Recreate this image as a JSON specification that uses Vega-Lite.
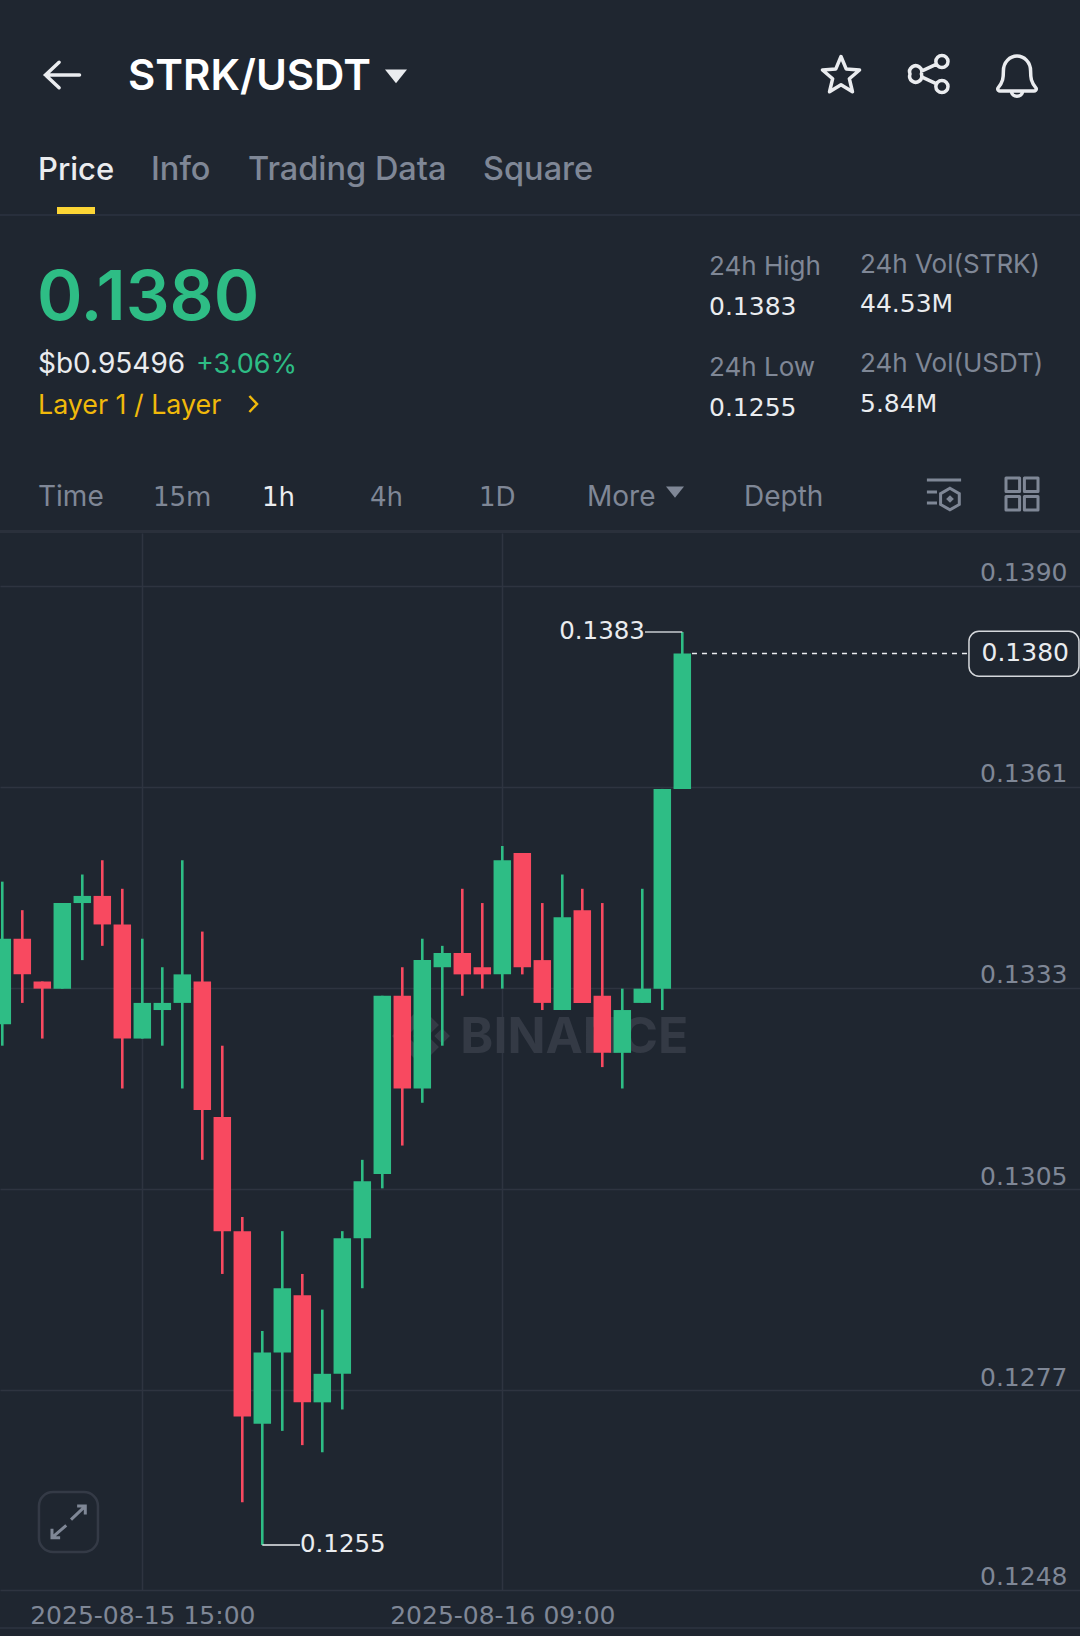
{
"$schema":"https://vega.github.io/schema/vega-lite/v6.json",
"background":"#1F2630","padding":{"left":-2,"top":0,"right":0,"bottom":0},"spacing":0,"autosize":{"type":"pad"},
"config":{"view":{"stroke":null},"concat":{"spacing":0},"font":"Inter","text":{"font":"Inter","baseline":"alphabetic"}},
"datasets":{
"header":[
{"role":"title","col":128,"line":90,"text":"STRK/USDT"},
{"role":"tabOn","col":38,"line":180,"text":"Price"},
{"role":"tabOff","col":151,"line":180,"text":"Info"},
{"role":"tabOff","col":248,"line":180,"text":"Trading Data"},
{"role":"tabOff","col":483,"line":180,"text":"Square"},
{"role":"last","col":37,"line":320,"text":"0.1380"},
{"role":"sub","col":38,"line":373,"text":"$b0.95496"},
{"role":"chg","col":196,"line":373,"text":"+3.06%"},
{"role":"cat","col":38,"line":413.5,"text":"Layer 1 / Layer"},
{"role":"statL","col":709,"line":275,"text":"24h High"},
{"role":"statV","col":709,"line":315,"text":"0.1383"},
{"role":"statL","col":709,"line":376,"text":"24h Low"},
{"role":"statV","col":709,"line":416,"text":"0.1255"},
{"role":"statL","col":860,"line":273,"text":"24h Vol(STRK)"},
{"role":"statV","col":860,"line":312,"text":"44.53M"},
{"role":"statL","col":860,"line":372,"text":"24h Vol(USDT)"},
{"role":"statV","col":860,"line":412,"text":"5.84M"},
{"role":"intOff","col":38,"line":505.5,"text":"Time"},
{"role":"intNum","col":153,"line":505.5,"text":"15m"},
{"role":"intOn","col":262,"line":505.5,"text":"1h"},
{"role":"intNum","col":370,"line":505.5,"text":"4h"},
{"role":"intNum","col":479,"line":505.5,"text":"1D"},
{"role":"intOff","col":587,"line":505.5,"text":"More"},
{"role":"intOff","col":744,"line":505.5,"text":"Depth"}
],
"icons":[
{"icon":"back","col":62.5,"line":75},
{"icon":"star","col":841,"line":76},
{"icon":"share","col":929,"line":74},
{"icon":"bell","col":1017,"line":76},
{"icon":"caret","col":396,"line":76},
{"icon":"chev","col":253,"line":404},
{"icon":"caretGrey","col":675,"line":492},
{"icon":"indicator","col":944,"line":494},
{"icon":"hexdot","col":950,"line":499},
{"icon":"grid","col":1022,"line":494}
],
"candles":[
{"t":"2025-08-15T08:00:00Z","open":0.1328,"close":0.1340,"high":0.1348,"low":0.1325,"side":"up"},
{"t":"2025-08-15T09:00:00Z","open":0.1340,"close":0.1335,"high":0.1344,"low":0.1331,"side":"down"},
{"t":"2025-08-15T10:00:00Z","open":0.1334,"close":0.1333,"high":0.1334,"low":0.1326,"side":"down"},
{"t":"2025-08-15T11:00:00Z","open":0.1333,"close":0.1345,"high":0.1345,"low":0.1333,"side":"up"},
{"t":"2025-08-15T12:00:00Z","open":0.1345,"close":0.1346,"high":0.1349,"low":0.1337,"side":"up"},
{"t":"2025-08-15T13:00:00Z","open":0.1346,"close":0.1342,"high":0.1351,"low":0.1339,"side":"down"},
{"t":"2025-08-15T14:00:00Z","open":0.1342,"close":0.1326,"high":0.1347,"low":0.1319,"side":"down"},
{"t":"2025-08-15T15:00:00Z","open":0.1326,"close":0.1331,"high":0.1340,"low":0.1326,"side":"up"},
{"t":"2025-08-15T16:00:00Z","open":0.1330,"close":0.1331,"high":0.1336,"low":0.1325,"side":"up"},
{"t":"2025-08-15T17:00:00Z","open":0.1331,"close":0.1335,"high":0.1351,"low":0.1319,"side":"up"},
{"t":"2025-08-15T18:00:00Z","open":0.1334,"close":0.1316,"high":0.1341,"low":0.1309,"side":"down"},
{"t":"2025-08-15T19:00:00Z","open":0.1315,"close":0.1299,"high":0.1325,"low":0.1293,"side":"down"},
{"t":"2025-08-15T20:00:00Z","open":0.1299,"close":0.1273,"high":0.1301,"low":0.1261,"side":"down"},
{"t":"2025-08-15T21:00:00Z","open":0.1272,"close":0.1282,"high":0.1285,"low":0.1255,"side":"up"},
{"t":"2025-08-15T22:00:00Z","open":0.1282,"close":0.1291,"high":0.1299,"low":0.1271,"side":"up"},
{"t":"2025-08-15T23:00:00Z","open":0.1290,"close":0.1275,"high":0.1293,"low":0.1269,"side":"down"},
{"t":"2025-08-16T00:00:00Z","open":0.1275,"close":0.1279,"high":0.1288,"low":0.1268,"side":"up"},
{"t":"2025-08-16T01:00:00Z","open":0.1279,"close":0.1298,"high":0.1299,"low":0.1274,"side":"up"},
{"t":"2025-08-16T02:00:00Z","open":0.1298,"close":0.1306,"high":0.1309,"low":0.1291,"side":"up"},
{"t":"2025-08-16T03:00:00Z","open":0.1307,"close":0.1332,"high":0.1332,"low":0.1305,"side":"up"},
{"t":"2025-08-16T04:00:00Z","open":0.1332,"close":0.1319,"high":0.1336,"low":0.1311,"side":"down"},
{"t":"2025-08-16T05:00:00Z","open":0.1319,"close":0.1337,"high":0.1340,"low":0.1317,"side":"up"},
{"t":"2025-08-16T06:00:00Z","open":0.1336,"close":0.1338,"high":0.1339,"low":0.1325,"side":"up"},
{"t":"2025-08-16T07:00:00Z","open":0.1338,"close":0.1335,"high":0.1347,"low":0.1332,"side":"down"},
{"t":"2025-08-16T08:00:00Z","open":0.1336,"close":0.1335,"high":0.1345,"low":0.1333,"side":"down"},
{"t":"2025-08-16T09:00:00Z","open":0.1335,"close":0.1351,"high":0.1353,"low":0.1333,"side":"up"},
{"t":"2025-08-16T10:00:00Z","open":0.1352,"close":0.1336,"high":0.1352,"low":0.1335,"side":"down"},
{"t":"2025-08-16T11:00:00Z","open":0.1337,"close":0.1331,"high":0.1345,"low":0.1330,"side":"down"},
{"t":"2025-08-16T12:00:00Z","open":0.1330,"close":0.1343,"high":0.1349,"low":0.1330,"side":"up"},
{"t":"2025-08-16T13:00:00Z","open":0.1344,"close":0.1331,"high":0.1347,"low":0.1331,"side":"down"},
{"t":"2025-08-16T14:00:00Z","open":0.1332,"close":0.1324,"high":0.1345,"low":0.1322,"side":"down"},
{"t":"2025-08-16T15:00:00Z","open":0.1324,"close":0.1330,"high":0.1333,"low":0.1319,"side":"up"},
{"t":"2025-08-16T16:00:00Z","open":0.1331,"close":0.1333,"high":0.1347,"low":0.1331,"side":"up"},
{"t":"2025-08-16T17:00:00Z","open":0.1333,"close":0.1361,"high":0.1361,"low":0.1330,"side":"up"},
{"t":"2025-08-16T18:00:00Z","open":0.1361,"close":0.1380,"high":0.1383,"low":0.1361,"side":"up"}
]
},
"vconcat":[
{"width":1080,"height":532,
 "encoding":{
  "x":{"field":"col","type":"quantitative","scale":{"domain":[0,1080],"nice":false,"zero":false},"axis":null},
  "y":{"field":"line","type":"quantitative","scale":{"domain":[532,0],"nice":false,"zero":false},"axis":null}},
 "layer":[
  {"data":{"values":[{"col":0,"col2":1080,"line":215}]},"mark":{"type":"rule","color":"#2D3340","strokeWidth":1.5},"encoding":{"x2":{"field":"col2"}}},
  {"data":{"values":[{"col":0,"col2":1080,"line":531.5}]},"mark":{"type":"rule","color":"#2A303B","strokeWidth":3},"encoding":{"x2":{"field":"col2"}}},
  {"data":{"values":[{"col":57,"col2":95,"line":207,"line2":214}]},"mark":{"type":"rect","color":"#FCD535"},"encoding":{"x2":{"field":"col2"},"y2":{"field":"line2"}}},
  {"data":{"name":"header"},"transform":[{"filter":"datum.role=='title'"}],"mark":{"type":"text","align":"left","fontSize":42,"fontWeight":600,"color":"#FFFFFF"},"encoding":{"text":{"field":"text"}}},
  {"data":{"name":"header"},"transform":[{"filter":"datum.role=='tabOn'"}],"mark":{"type":"text","align":"left","fontSize":31,"fontWeight":500,"color":"#EAECEF"},"encoding":{"text":{"field":"text"}}},
  {"data":{"name":"header"},"transform":[{"filter":"datum.role=='tabOff'"}],"mark":{"type":"text","align":"left","fontSize":32.5,"fontWeight":500,"color":"#7F8796"},"encoding":{"text":{"field":"text"}}},
  {"data":{"name":"header"},"transform":[{"filter":"datum.role=='last'"}],"mark":{"type":"text","align":"left","fontSize":69,"fontWeight":600,"color":"#2EBD85"},"encoding":{"text":{"field":"text"}}},
  {"data":{"name":"header"},"transform":[{"filter":"datum.role=='sub'"}],"mark":{"type":"text","align":"left","fontSize":28,"color":"#EAECEF"},"encoding":{"text":{"field":"text"}}},
  {"data":{"name":"header"},"transform":[{"filter":"datum.role=='chg'"}],"mark":{"type":"text","align":"left","fontSize":27,"color":"#2EBD85"},"encoding":{"text":{"field":"text"}}},
  {"data":{"name":"header"},"transform":[{"filter":"datum.role=='cat'"}],"mark":{"type":"text","align":"left","fontSize":26.8,"color":"#F0B90B"},"encoding":{"text":{"field":"text"}}},
  {"data":{"name":"header"},"transform":[{"filter":"datum.role=='statL'"}],"mark":{"type":"text","align":"left","fontSize":26,"color":"#7F8796"},"encoding":{"text":{"field":"text"}}},
  {"data":{"name":"header"},"transform":[{"filter":"datum.role=='statV'"}],"mark":{"type":"text","align":"left","font":"DejaVu Sans","fontSize":25,"color":"#EAECEF"},"encoding":{"text":{"field":"text"}}},
  {"data":{"name":"header"},"transform":[{"filter":"datum.role=='intOff'"}],"mark":{"type":"text","align":"left","fontSize":28,"color":"#7F8796"},"encoding":{"text":{"field":"text"}}},
  {"data":{"name":"header"},"transform":[{"filter":"datum.role=='intNum'"}],"mark":{"type":"text","align":"left","font":"DejaVu Sans","fontSize":26,"color":"#7F8796"},"encoding":{"text":{"field":"text"}}},
  {"data":{"name":"header"},"transform":[{"filter":"datum.role=='intOn'"}],"mark":{"type":"text","align":"left","font":"DejaVu Sans","fontSize":26,"color":"#EAECEF"},"encoding":{"text":{"field":"text"}}},
  {"data":{"name":"icons"},"transform":[{"filter":"datum.icon=='back'"}],"mark":{"type":"point","filled":false,"opacity":1,"size":1156,"strokeWidth":3.5,"strokeCap":"round","color":"#EAECEF","shape":"M1 0 L-1 0 M-0.2 -0.75 L-1 0 L-0.2 0.75"}},
  {"data":{"name":"icons"},"transform":[{"filter":"datum.icon=='star'"}],"mark":{"type":"point","filled":false,"opacity":1,"size":1521,"strokeWidth":3.5,"strokeJoin":"round","color":"#EAECEF","shape":"M0 -1 L.265 -.364 L.951 -.309 L.428 .139 L.588 .809 L0 .45 L-.588 .809 L-.428 .139 L-.951 -.309 L-.265 -.364 Z"}},
  {"data":{"name":"icons"},"transform":[{"filter":"datum.icon=='share'"}],"mark":{"type":"point","filled":false,"opacity":1,"size":1444,"strokeWidth":3.5,"color":"#EAECEF","shape":"M-.4 0 A.32 .32 0 1 1 -1 0 A.32 .32 0 1 1 -.4 0 Z M1 -.66 A.32 .32 0 1 1 .36 -.66 A.32 .32 0 1 1 1 -.66 Z M1 .66 A.32 .32 0 1 1 .36 .66 A.32 .32 0 1 1 1 .66 Z M-.42 -.14 L.4 -.52 M-.42 .14 L.4 .52"}},
  {"data":{"name":"icons"},"transform":[{"filter":"datum.icon=='bell'"}],"mark":{"type":"point","filled":false,"opacity":1,"size":1600,"strokeWidth":3.5,"strokeJoin":"round","color":"#EAECEF","shape":"M-.95 .6 C-.7 .3 -.68 .1 -.68 -.25 C-.68 -.7 -.35 -1 0 -1 C.35 -1 .68 -.7 .68 -.25 C.68 .1 .7 .3 .95 .6 C1 .7 .9 .75 .85 .75 L-.85 .75 C-.9 .75 -1 .7 -.95 .6 Z M-.28 .75 C-.28 1.1 .28 1.1 .28 .75"}},
  {"data":{"name":"icons"},"transform":[{"filter":"datum.icon=='caret'"}],"mark":{"type":"point","filled":true,"opacity":1,"size":484,"color":"#EAECEF","shape":"M-1 -.6 L1 -.6 L0 .65 Z"}},
  {"data":{"name":"icons"},"transform":[{"filter":"datum.icon=='caretGrey'"}],"mark":{"type":"point","filled":true,"opacity":1,"size":324,"color":"#7F8796","shape":"M-1 -.6 L1 -.6 L0 .65 Z"}},
  {"data":{"name":"icons"},"transform":[{"filter":"datum.icon=='chev'"}],"mark":{"type":"point","filled":false,"opacity":1,"size":256,"strokeWidth":2.5,"color":"#F0B90B","shape":"M-.45 -1 L.5 0 L-.45 1"}},
  {"data":{"name":"icons"},"transform":[{"filter":"datum.icon=='indicator'"}],"mark":{"type":"point","filled":false,"opacity":1,"size":1296,"strokeWidth":3,"color":"#7F8796","shape":"M-.95 -.78 L.95 -.78 M-.95 -.11 L-.39 -.11 M-.95 .5 L-.39 .5 M.33 -.32 L.85 -.02 L.85 .58 L.33 .88 L-.19 .58 L-.19 -.02 Z"}},
  {"data":{"name":"icons"},"transform":[{"filter":"datum.icon=='hexdot'"}],"mark":{"type":"point","filled":true,"opacity":1,"size":60,"color":"#7F8796","shape":"diamond"}},
  {"data":{"name":"icons"},"transform":[{"filter":"datum.icon=='grid'"}],"mark":{"type":"point","filled":false,"opacity":1,"size":1024,"strokeWidth":3,"strokeJoin":"round","color":"#7F8796","shape":"M-1 -1 L-.15 -1 L-.15 -.15 L-1 -.15 Z M.15 -1 L1 -1 L1 -.15 L.15 -.15 Z M-1 .15 L-.15 .15 L-.15 1 L-1 1 Z M.15 .15 L1 .15 L1 1 L.15 1 Z"}}
 ]
},
{"width":1080,"height":1057,
 "encoding":{
  "x":{"field":"t","type":"temporal","scale":{"type":"utc","domain":[1755244386000,1755438786000],"nice":false,"padding":0},
      "axis":{"title":null,"values":[1755270000000,1755334800000],"format":"%Y-%m-%d %H:%M","labelFont":"DejaVu Sans","labelFontSize":25,"labelLimit":400,"labelColor":"#7F8796","labelPadding":13,"ticks":false,"domain":false,"grid":true,"gridColor":"#2E3440","gridWidth":1.5,"labelOverlap":false,"labelFlush":false,"labelBound":false}},
  "y":{"field":"price","type":"quantitative","scale":{"domain":[0.124869,0.139688],"nice":false,"zero":false},
      "axis":{"title":null,"orient":"right","values":[0.138945,0.13613,0.13331,0.13049,0.12767,0.12487],"labelExpr":"datum.value > 0.1389 ? '0.1390' : datum.value < 0.125 ? '0.1248' : format(datum.value,'.4f')","labelFont":"DejaVu Sans","labelFontSize":25,"labelColor":"#7F8796","labelAlign":"right","labelBaseline":"bottom","labelPadding":-13,"labelOffset":0,"ticks":false,"domain":false,"grid":true,"gridColor":"#2E3440","gridWidth":1.5,"labelOverlap":false,"labelFlush":false,"labelBound":false}}
 },
 "layer":[
  {"data":{"values":[{"t":"2025-08-16T06:54:00Z","price":0.1324,"label":"BINANCE"}]},"mark":{"type":"text","align":"left","baseline":"alphabetic","fontSize":50,"fontWeight":700,"color":"#343A45"},"encoding":{"text":{"field":"label"}}},
  {"data":{"values":[{"t":"2025-08-16T04:56:00Z","price":0.132636}]},"mark":{"type":"point","filled":true,"opacity":1,"size":3364,"color":"#343A45","shape":"M0 -.27 L.27 0 L0 .27 L-.27 0 Z M-1 0 L-.73 -.27 L-.46 0 L-.73 .27 Z M1 0 L.73 -.27 L.46 0 L.73 .27 Z M-.62 -.38 L0 -1 L.62 -.38 L.36 -.12 L0 -.48 L-.36 -.12 Z M-.62 .38 L0 1 L.62 .38 L.36 .12 L0 .48 L-.36 .12 Z"}},
  {"data":{"name":"candles"},"mark":{"type":"rule","strokeWidth":2.6,"clip":true},
   "encoding":{
    "y":{"field":"high","type":"quantitative","scale":{"domain":[0.124869,0.139688],"nice":false,"zero":false},
      "axis":{"title":null,"orient":"right","values":[0.138945,0.13613,0.13331,0.13049,0.12767,0.12487],"labelExpr":"datum.value > 0.1389 ? '0.1390' : datum.value < 0.125 ? '0.1248' : format(datum.value,'.4f')","labelFont":"DejaVu Sans","labelFontSize":25,"labelColor":"#7F8796","labelAlign":"right","labelBaseline":"bottom","labelPadding":-13,"labelOffset":0,"ticks":false,"domain":false,"grid":true,"gridColor":"#2E3440","gridWidth":1.5,"labelOverlap":false,"labelFlush":false,"labelBound":false}},
    "y2":{"field":"low"},
    "color":{"field":"side","type":"nominal","scale":{"domain":["up","down"],"range":["#2EBD85","#F84960"]},"legend":null}}},
  {"data":{"name":"candles"},"mark":{"type":"bar","size":17.5,"clip":true},
   "encoding":{
    "y":{"field":"open","type":"quantitative","scale":{"domain":[0.124869,0.139688],"nice":false,"zero":false},
      "axis":{"title":null,"orient":"right","values":[0.138945,0.13613,0.13331,0.13049,0.12767,0.12487],"labelExpr":"datum.value > 0.1389 ? '0.1390' : datum.value < 0.125 ? '0.1248' : format(datum.value,'.4f')","labelFont":"DejaVu Sans","labelFontSize":25,"labelColor":"#7F8796","labelAlign":"right","labelBaseline":"bottom","labelPadding":-13,"labelOffset":0,"ticks":false,"domain":false,"grid":true,"gridColor":"#2E3440","gridWidth":1.5,"labelOverlap":false,"labelFlush":false,"labelBound":false}},
    "y2":{"field":"close"},
    "color":{"field":"side","type":"nominal","legend":null}}},
  {"data":{"values":[{"t":"2025-08-16T18:29:00Z","t2":"2025-08-17T08:17:00Z","price":0.1380}]},"mark":{"type":"rule","color":"#EAECEF","strokeWidth":1.5,"strokeDash":[5,5]},"encoding":{"x2":{"field":"t2"}}},
  {"data":{"values":[{"t":"2025-08-16T16:08:00Z","t2":"2025-08-16T18:00:00Z","price":0.1383}]},"mark":{"type":"rule","color":"#C9CCD1","strokeWidth":1.5},"encoding":{"x2":{"field":"t2"}}},
  {"data":{"values":[{"t":"2025-08-15T21:00:00Z","t2":"2025-08-15T22:53:00Z","price":0.1255}]},"mark":{"type":"rule","color":"#EAECEF","strokeWidth":1.5},"encoding":{"x2":{"field":"t2"}}},
  {"data":{"values":[{"t":"2025-08-16T16:08:00Z","price":0.1383,"label":"0.1383"}]},"mark":{"type":"text","align":"right","baseline":"middle","font":"DejaVu Sans","fontSize":24.5,"color":"#EAECEF"},"encoding":{"text":{"field":"label"}}},
  {"data":{"values":[{"t":"2025-08-15T22:53:00Z","price":0.1255,"label":"0.1255"}]},"mark":{"type":"text","align":"left","baseline":"middle","font":"DejaVu Sans","fontSize":24.5,"color":"#EAECEF"},"encoding":{"text":{"field":"label"}}},
  {"data":{"values":[{"t":"2025-08-17T08:20:00Z","t2":"2025-08-17T13:50:00Z","price":0.13831,"p2":0.13768}]},"mark":{"type":"rect","fillOpacity":0,"stroke":"#D5D8DC","strokeWidth":1.5,"cornerRadius":10},"encoding":{"x2":{"field":"t2"},"y2":{"field":"p2"}}},
  {"data":{"values":[{"t":"2025-08-17T13:20:00Z","price":0.1380,"label":"0.1380"}]},"mark":{"type":"text","align":"right","baseline":"middle","font":"DejaVu Sans","fontSize":25,"color":"#EAECEF"},"encoding":{"text":{"field":"label"}}},
  {"data":{"values":[{"t":"2025-08-15T09:50:00Z","t2":"2025-08-15T12:47:00Z","price":0.126243,"p2":0.125402}]},"mark":{"type":"rect","fillOpacity":0,"stroke":"#343A46","strokeWidth":2.5,"cornerRadius":14},"encoding":{"x2":{"field":"t2"},"y2":{"field":"p2"}}},
  {"data":{"values":[{"t":"2025-08-15T11:19:00Z","price":0.125822}]},"mark":{"type":"point","filled":false,"opacity":1,"size":1156,"strokeWidth":3,"color":"#7F8796","shape":"M.14 -.14 L.98 -.94 M.5 -.94 L.98 -.94 L.98 -.45 M-.14 .2 L-.98 .92 M-.98 .4 L-.98 .92 L-.5 .92"}},
  {"data":{"values":[{"price":0.124336}]},"mark":{"type":"rule","color":"#2E3440","strokeWidth":1.5},"encoding":{"x":{"value":0},"x2":{"value":1080}}},
  {"data":{"values":[{"price":0.12421}]},"mark":{"type":"rule","opacity":0},"encoding":{"x":{"value":0},"x2":{"value":1080}}}
 ]
}
]
}
